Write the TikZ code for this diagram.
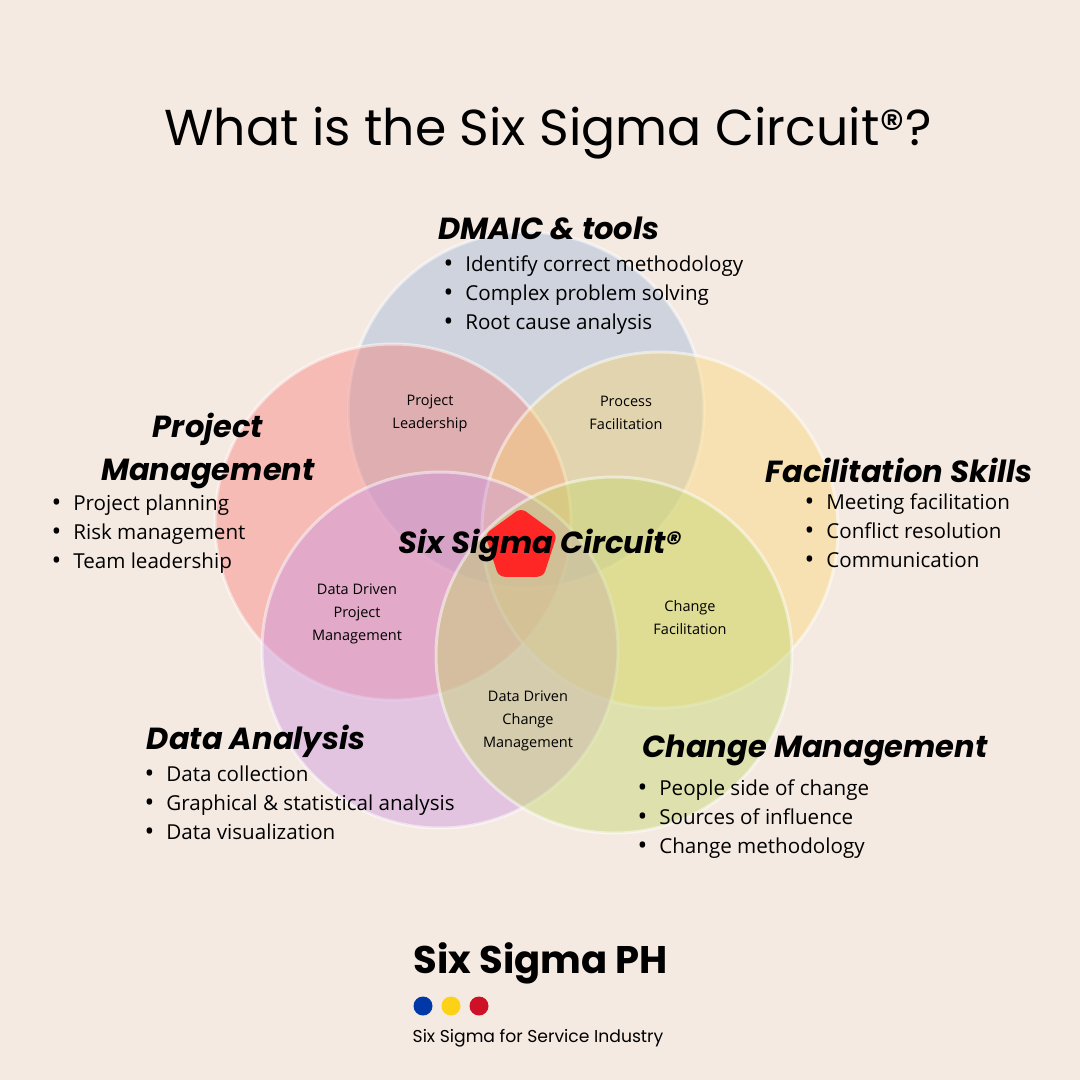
\documentclass[tikz,border=0pt]{standalone}
\usepackage{fontspec}
\setmainfont{Open Sans}
\newfontfamily\pop{Poppins}
\usetikzlibrary{shapes.geometric}
\definecolor{bg}{RGB}{245,234,226}
\definecolor{cblue}{RGB}{160,185,215}
\definecolor{cred}{RGB}{245,130,125}
\definecolor{cyel}{RGB}{250,215,120}
\definecolor{cpur}{RGB}{205,150,225}
\definecolor{cgrn}{RGB}{195,215,110}
\newcommand{\bul}{{\fontsize{26}{20}\selectfont\raisebox{-1.5pt}{•}}\hspace{12pt}}
\tikzset{
 venn/.style={circle,minimum size=356pt,inner sep=0pt,fill opacity=0.45,draw=white,draw opacity=0.5,line width=3pt},
 head/.style={font=\pop\bfseries\itshape\fontsize{30.5}{43}\selectfont,align=center},
 blist/.style={font=\fontsize{20.6}{29}\selectfont,align=left,anchor=north west},
 small/.style={font=\fontsize{14.5}{23}\selectfont,align=center},
}
\begin{document}
\begin{tikzpicture}[x=1pt,y=-1pt]
\fill[bg] (0,0) rectangle (1080,1080);
\useasboundingbox (0,0) rectangle (1080,1080);
\node (title) at (548,133) {\pop\fontsize{50.5}{60}\selectfont What is the Six Sigma Circuit®?};
\node[venn,fill=cblue] (cb) at (526,410) {};
\node[venn,fill=cred] (cr) at (393,522) {};
\node[venn,fill=cyel] (cy) at (660,530) {};
\node[venn,fill=cpur] (cp) at (440,650) {};
\node[venn,fill=cgrn] (cg) at (614,655) {};
\node[regular polygon,regular polygon sides=5,minimum size=76pt,fill=red!85!white,rounded corners=6pt,inner sep=0pt] (pent) at (521,546) {};
\node[head] (hc) at (540,545) {Six Sigma Circuit®};
\node[head] (h1) at (549,228) {DMAIC \& tools};
\node[blist] (b1) at (440,252) {\bul Identify correct methodology\\\bul Complex problem solving\\\bul Root cause analysis};
\node[head] (h2) at (208,451) {Project\\Management};
\node[blist] (b2) at (48,491) {\bul Project planning\\\bul Risk management\\\bul Team leadership};
\node[head] (h3) at (899,470) {Facilitation Skills};
\node[blist] (b3) at (801,490) {\bul Meeting facilitation\\\bul Conflict resolution\\\bul Communication};
\node[head] (h4) at (256,741) {Data Analysis};
\node[blist] (b4) at (141,762) {\bul Data collection\\\bul Graphical \& statistical analysis\\\bul Data visualization};
\node[head] (h5) at (815,750) {Change Management};
\node[blist] (b5) at (634,776) {\bul People side of change\\\bul Sources of influence\\\bul Change methodology};
\node[small] (s1) at (430,413) {Project\\Leadership};
\node[small] (s2) at (626,413) {Process\\Facilitation};
\node[small] (s3) at (357,614) {Data Driven\\Project\\Management};
\node[small] (s4) at (690,618) {Change\\Facilitation};
\node[small] (s5) at (528,721) {Data Driven\\Change\\Management};
\node (brand) at (541,963) {\pop\bfseries\fontsize{38.5}{44}\selectfont Six Sigma PH};
\fill[color={rgb,255:red,0;green,56;blue,168}] (423,1006) circle (9.5);
\fill[color={rgb,255:red,252;green,209;blue,22}] (451,1006) circle (9.5);
\fill[color={rgb,255:red,206;green,17;blue,38}] (479,1006) circle (9.5);
\node (tag) at (538,1038) {\pop\fontsize{17.2}{21}\selectfont Six Sigma for Service Industry};
\end{tikzpicture}
\end{document}
